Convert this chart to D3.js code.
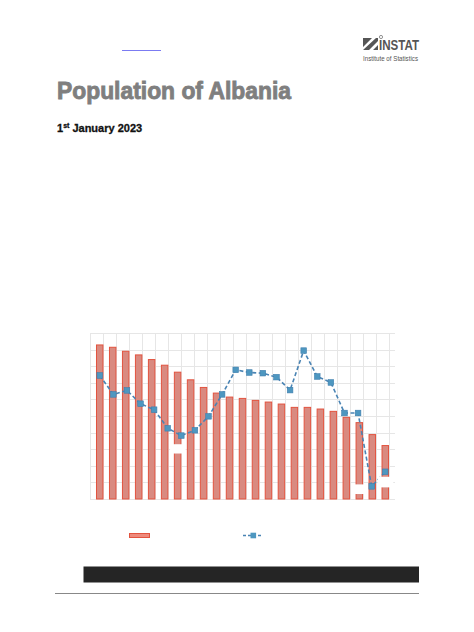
<!DOCTYPE html>
<html>
<head>
<meta charset="utf-8">
<script src="https://cdn.jsdelivr.net/npm/d3@7"></script>
<style>
  body { margin: 0; background: #fff; }
  svg { display: block; font-family: "Liberation Sans", Arial, sans-serif; }
</style>
</head>
<body>
<div id="chart"></div>
<script>
// categories (axis labels are not shown in the picture)
var categories = ["2001", "2002", "2003", "2004", "2005", "2006", "2007", "2008", "2009", "2010", "2011", "2012",
                  "2013", "2014", "2015", "2016", "2017", "2018", "2019", "2020", "2021", "2022", "2023"];
var barValues = [9.28, 9.14, 8.90, 8.68, 8.40, 8.06, 7.64, 7.18, 6.72, 6.38, 6.14, 6.06,
                 5.94, 5.84, 5.72, 5.52, 5.52, 5.42, 5.28, 4.92, 4.60, 3.88, 3.22];
// line series has one point fewer than the bars
var lineCategories = categories.slice(1);
var lineValues = [7.44, 6.30, 6.54, 5.74, 5.38, 4.26, 3.82, 4.14, 4.98, 6.30, 7.78,
                  7.62, 7.58, 7.34, 6.56, 8.94, 7.38, 7.02, 5.18, 5.18, 0.76, 1.64];
var yTicks = [0, 1, 2, 3, 4, 5, 6, 7, 8, 9, 10];
// hidden data labels (white boxes): category, bottom value, top value
var maskedLabels = [
  { cat: "2007", from: 2.74, to: 3.30 },
  { cat: "2021", from: 0.30, to: 0.88 },
  { cat: "2023", from: 0.70, to: 1.34 }
];

var W = 474, H = 632;
var svg = d3.select("#chart").append("svg")
    .attr("width", W).attr("height", H);

// header
svg.append("line")
    .attr("x1", 122).attr("x2", 161).attr("y1", 50.5).attr("y2", 50.5)
    .attr("stroke", "#7b7bf2").attr("stroke-width", 1.2);

var logo = svg.append("g").attr("transform", "translate(363,38)");
logo.append("path")
    .attr("d", "M0,0 L9,0 L0,9 Z M0,12 L13,0 L15,0 L15,3 L6,12 Z M10,12 L15,7 L15,12 Z")
    .attr("fill", "#555");
logo.append("circle").attr("cx", 18).attr("cy", -1).attr("r", 1.6)
    .attr("fill", "none").attr("stroke", "#777").attr("stroke-width", 0.8);
logo.append("text").attr("x", 16).attr("y", 12)
    .attr("font-size", 15).attr("font-weight", "bold").attr("fill", "#555")
    .attr("textLength", 40).attr("lengthAdjust", "spacingAndGlyphs")
    .text("INSTAT");
logo.append("text").attr("x", 0).attr("y", 23)
    .attr("font-size", 7.5).attr("fill", "#555")
    .attr("textLength", 55).attr("lengthAdjust", "spacingAndGlyphs")
    .text("Institute of Statistics");

svg.append("text")
    .attr("x", 57).attr("y", 99)
    .attr("font-size", 24.5).attr("font-weight", "bold").attr("fill", "#7f7f7f")
    .attr("stroke", "#7f7f7f").attr("stroke-width", 0.9)
    .attr("textLength", 234).attr("lengthAdjust", "spacingAndGlyphs")
    .text("Population of Albania");

var sub = svg.append("text")
    .attr("x", 57).attr("y", 132)
    .attr("font-size", 11).attr("font-weight", "bold").attr("fill", "#111")
    .attr("stroke", "#111").attr("stroke-width", 0.3);
sub.append("tspan").text("1");
sub.append("tspan").attr("font-size", 7).attr("dy", -4).text("st");
sub.append("tspan").attr("dy", 4).text(" January 2023");

// chart area
var plotLeft = 90, plotRight = 395, plotTop = 333, plotBottom = 499;

var x = d3.scaleBand()
    .domain(categories)
    .range([plotLeft, plotRight])
    .padding(0.5);

var y = d3.scaleLinear()
    .domain([0, 10])
    .range([plotBottom, plotTop]);

var xLine = d3.scalePoint()
    .domain(lineCategories)
    .range([x(categories[0]) + x.bandwidth() / 2, x(categories[categories.length - 1]) + x.bandwidth() / 2]);

// grid
var grid = svg.append("g").attr("stroke", "#e6e6e6").attr("stroke-width", 1);
grid.selectAll(".h")
    .data(yTicks)
    .enter().append("line")
    .attr("x1", plotLeft).attr("x2", plotRight)
    .attr("y1", function (d) { return Math.round(y(d)) + 0.5; })
    .attr("y2", function (d) { return Math.round(y(d)) + 0.5; });
grid.selectAll(".v")
    .data(d3.range(categories.length + 1))
    .enter().append("line")
    .attr("x1", function (i) { return Math.round(plotLeft + i * x.step()) + 0.5; })
    .attr("x2", function (i) { return Math.round(plotLeft + i * x.step()) + 0.5; })
    .attr("y1", plotTop).attr("y2", plotBottom);

// bars
svg.selectAll(".bar")
    .data(barValues)
    .enter().append("rect")
    .attr("x", function (d, i) { return x(categories[i]); })
    .attr("width", x.bandwidth())
    .attr("y", function (d) { return y(d); })
    .attr("height", function (d) { return y(0) - y(d); })
    .attr("fill", "#d98a80")
    .attr("stroke", "#e2533f")
    .attr("stroke-width", 1);

// line
var line = d3.line()
    .x(function (d, i) { return xLine(lineCategories[i]); })
    .y(function (d) { return y(d); });

svg.append("path")
    .datum(lineValues)
    .attr("d", line)
    .attr("fill", "none")
    .attr("stroke", "#4a84b4")
    .attr("stroke-width", 1.6)
    .attr("stroke-dasharray", "4,2.5");

svg.selectAll(".pt")
    .data(lineValues)
    .enter().append("rect")
    .attr("x", function (d, i) { return xLine(lineCategories[i]) - 2.8; })
    .attr("y", function (d) { return y(d) - 2.8; })
    .attr("width", 5.6).attr("height", 5.6)
    .attr("fill", "#4e97c0")
    .attr("stroke", "#3f7fae").attr("stroke-width", 0.6);

// masked (removed) data labels
svg.selectAll(".mask")
    .data(maskedLabels)
    .enter().append("rect")
    .attr("x", function (d) { return x(d.cat) + x.bandwidth() / 2 - 7.5; })
    .attr("width", 15.5)
    .attr("y", function (d) { return y(d.to); })
    .attr("height", function (d) { return y(d.from) - y(d.to); })
    .attr("fill", "#fff");

// legend
svg.append("rect")
    .attr("x", 129.5).attr("y", 533.5).attr("width", 20).attr("height", 4)
    .attr("fill", "#ee8a7c").attr("stroke", "#e2533f").attr("stroke-width", 1);
svg.append("line")
    .attr("x1", 243).attr("x2", 262).attr("y1", 535.5).attr("y2", 535.5)
    .attr("stroke", "#4a84b4").attr("stroke-width", 1.6).attr("stroke-dasharray", "3,2");
svg.append("rect")
    .attr("x", 250.5).attr("y", 532.7).attr("width", 5.6).attr("height", 5.6)
    .attr("fill", "#4e97c0");

// footer
svg.append("rect")
    .attr("x", 83.5).attr("y", 566.5).attr("width", 335.5).attr("height", 16)
    .attr("fill", "#252525");
svg.append("line")
    .attr("x1", 55).attr("x2", 419).attr("y1", 593.5).attr("y2", 593.5)
    .attr("stroke", "#888").attr("stroke-width", 1);
</script>
</body>
</html>
